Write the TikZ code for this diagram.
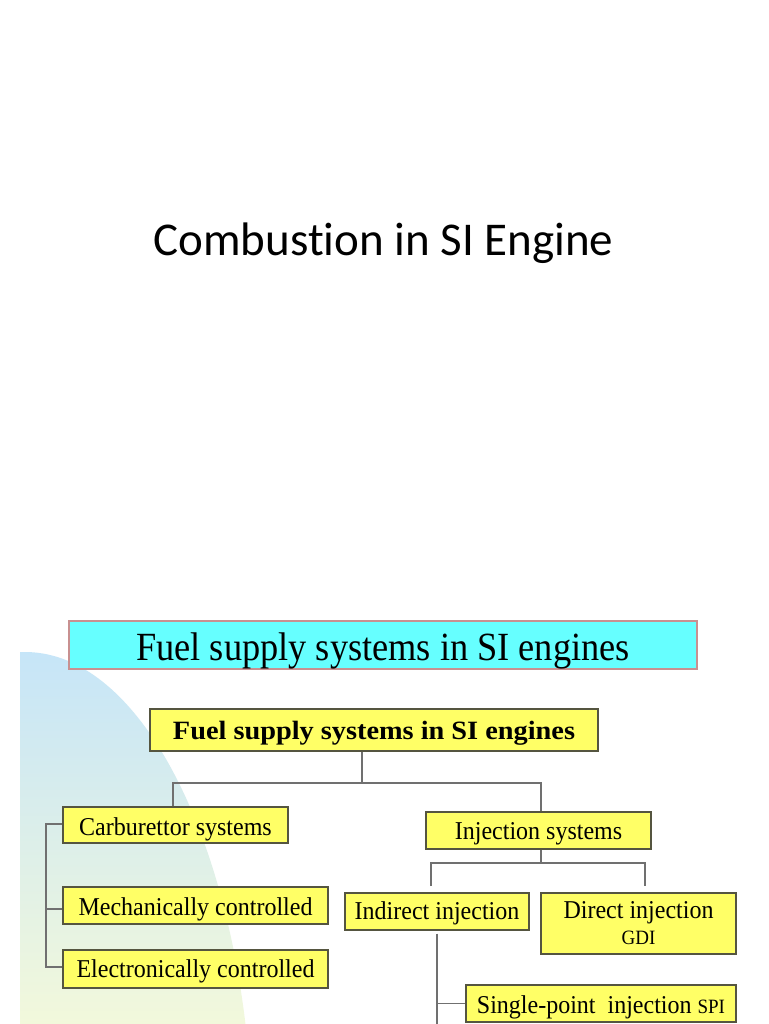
\documentclass[tikz,border=0pt]{standalone}
\usepackage{fontspec}
\setmainfont{Liberation Serif}
\newfontfamily\calib[Ligatures=NoCommon]{Carlito}
\usetikzlibrary{calc}
\definecolor{boxyellow}{HTML}{FFFF66}
\definecolor{boxborder}{HTML}{555540}
\definecolor{linegray}{HTML}{707070}
\definecolor{cyanfill}{HTML}{66FFFF}
\definecolor{cyanborder}{HTML}{C89090}
\definecolor{bgblue}{HTML}{C6E5F8}
\definecolor{bggreen}{HTML}{E0EFE8}
\definecolor{bgyellow}{HTML}{F4F9DA}
\newcommand{\tallt}[1]{\scalebox{1}[1.07]{#1}}
\tikzset{
  ybox/.style={draw=boxborder, line width=1.3pt, fill=boxyellow, inner sep=0pt,
    anchor=base, font=\fontsize{24}{26}\selectfont},
  conn/.style={draw=linegray, line width=1.3pt},
}
\begin{document}
\begin{tikzpicture}[x=1pt,y=-1pt]
\useasboundingbox (0,0) rectangle (768,1024);
\fill[white] (0,0) rectangle (768,1024);
% background quarter-disc
\begin{scope}
  \clip (20,640) rectangle (300,1024);
  \clip (25,1152) ellipse [x radius=228pt, y radius=500pt];
  \shade[top color=bgblue, middle color=bggreen, bottom color=bgyellow] (20,650) rectangle (300,1040);
\end{scope}
% title
\node[font=\calib\fontsize{47}{50}\selectfont, anchor=base, inner sep=0pt] (title) at (383.5,255) {Combustion in SI Engine};
% heading banner
\node[draw=cyanborder, line width=1.2pt, fill=cyanfill, inner sep=0pt, minimum width=628pt,
  text height=39pt, text depth=9pt, anchor=base, font=\fontsize{40}{44}\selectfont]
  (head) at (383,660) {\scalebox{0.908}[1]{Fuel supply systems in SI engines}};
% boxes
\node[ybox, minimum width=448pt, text height=30pt, text depth=12pt,
  font=\bfseries\fontsize{24}{26}\selectfont] (root) at (374,739)
  {\scalebox{1.18}[1.1]{Fuel supply systems in SI engines}};
\node[ybox, minimum width=225pt, text height=28pt, text depth=8pt] (carb) at (175.5,835) {\tallt{Carburettor systems}};
\node[ybox, minimum width=265pt, text height=28pt, text depth=9pt] (mech) at (195.5,915) {\tallt{Mechanically controlled}};
\node[ybox, minimum width=265pt, text height=27pt, text depth=11pt] (elec) at (195.5,977) {\tallt{Electronically controlled}};
\node[ybox, minimum width=225pt, text height=27pt, text depth=10pt] (inj) at (538.5,839) {\tallt{Injection systems}};
\node[ybox, minimum width=184pt, text height=26pt, text depth=11pt] (indirect) at (437,919) {\tallt{Indirect injection}};
\node[ybox, anchor=center, minimum width=195pt, minimum height=61pt, align=center] (direct) at (638.5,923.5)
  {\tallt{Direct injection}\\{\fontsize{19}{26}\selectfont\tallt{GDI}}};
\node[ybox, minimum width=270pt, text height=28pt, text depth=9pt] (spi) at (601,1013)
  {\tallt{Single-point\ \ injection {\fontsize{19}{20}\selectfont SPI}}};
% connectors from root
\coordinate (rj) at (362,783);
\coordinate (cn) at ([xshift=-2.5pt]carb.north);
\coordinate (in) at ([xshift=2.5pt]inj.north);
\draw[conn] ([xshift=-12pt]root.south) -- (rj);
\draw[conn] (cn) -- (cn |- rj) -- (in |- rj) -- (in);
% carburettor bracket
\coordinate (bx) at (46,0);
\coordinate (c1) at ([yshift=1pt]carb.west);
\coordinate (c2) at ([yshift=-3.5pt]mech.west);
\coordinate (c3) at ([yshift=2pt]elec.west);
\draw[conn] (c1) -- (bx |- c1) -- (bx |- c3) -- (c3);
\draw[conn] (bx |- c2) -- (c2);
% injection split
\coordinate (ij) at (541,863);
\coordinate (ia) at (431,886);
\coordinate (ib) at (645,886);
\draw[conn] ([xshift=2.5pt]inj.south) -- (ij);
\draw[conn] (ia) -- (ia |- ij) -- (ib |- ij) -- (ib);
% indirect branch
\coordinate (ibot) at (437,1030);
\draw[conn] ([yshift=-3pt]indirect.south) -- (ibot);
\draw[conn] (ibot |- spi.west) -- (spi.west);
\end{tikzpicture}
\end{document}
